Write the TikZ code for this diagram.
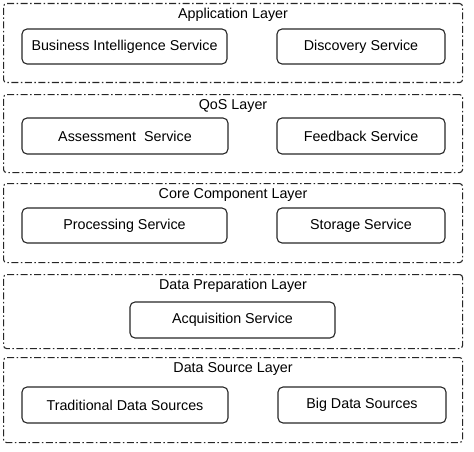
\documentclass[tikz,border=0pt]{standalone}
\usepackage{fontspec}
\setmainfont{Liberation Sans}
\begin{document}
\begin{tikzpicture}[x=1pt,y=-1pt,
  layerbox/.style={draw=black!85, line width=1.1pt, dash pattern=on 7pt off 2.5pt on 1.5pt off 2.5pt, rounded corners=3pt, inner sep=0pt},
  svc/.style={draw=black!85, line width=1.1pt, rounded corners=5pt, inner sep=0pt, font=\fontsize{14.3}{16}\selectfont},
  lbl/.style={inner sep=0pt, font=\fontsize{14.3}{16}\selectfont}]
\useasboundingbox (0,0) rectangle (474,452);
\newcommand{\layerat}[5]{%
  \node[layerbox, minimum width=#3pt, minimum height=#4pt, anchor=north west] (#1) at (#2) {};}
\layerat{L1}{3,3}{459}{79}{}
\layerat{L2}{3,94}{459}{78}{}
\layerat{L3}{3,183}{459}{79}{}
\layerat{L4}{3,274}{459}{74}{}
\layerat{L5}{3,357}{459}{85}{}
\node[lbl] (t1) at ([yshift=-11.5pt]L1.north) {Application Layer};
\node[lbl] (t2) at ([yshift=-11.5pt]L2.north) {QoS Layer};
\node[lbl] (t3) at ([yshift=-11.5pt]L3.north) {Core Component Layer};
\node[lbl] (t4) at ([yshift=-11.5pt]L4.north) {Data Preparation Layer};
\node[lbl] (t5) at ([yshift=-11.5pt]L5.north) {Data Source Layer};
\node[svc, minimum width=205pt, minimum height=35pt] (bi) at (124.5,46.5) {Business Intelligence Service};
\node[svc, minimum width=168pt, minimum height=35pt] (ds) at (361,46.5) {Discovery Service};
\node[svc, minimum width=206pt, minimum height=36pt] (as) at (125,136) {Assessment\ \ Service};
\node[svc, minimum width=168pt, minimum height=36pt] (fs) at (361,136) {Feedback Service};
\node[svc, minimum width=205pt, minimum height=35pt] (ps) at (124.5,225.5) {Processing Service};
\node[svc, minimum width=168pt, minimum height=35pt] (ss) at (361,225.5) {Storage Service};
\node[svc, minimum width=205pt, minimum height=36pt] (aq) at (232.5,320) {Acquisition Service};
\node[svc, minimum width=206pt, minimum height=36pt] (td) at (125,405) {Traditional Data Sources};
\node[svc, minimum width=168pt, minimum height=36pt] (bd) at (362,405) {Big Data Sources};
\end{tikzpicture}
\end{document}
